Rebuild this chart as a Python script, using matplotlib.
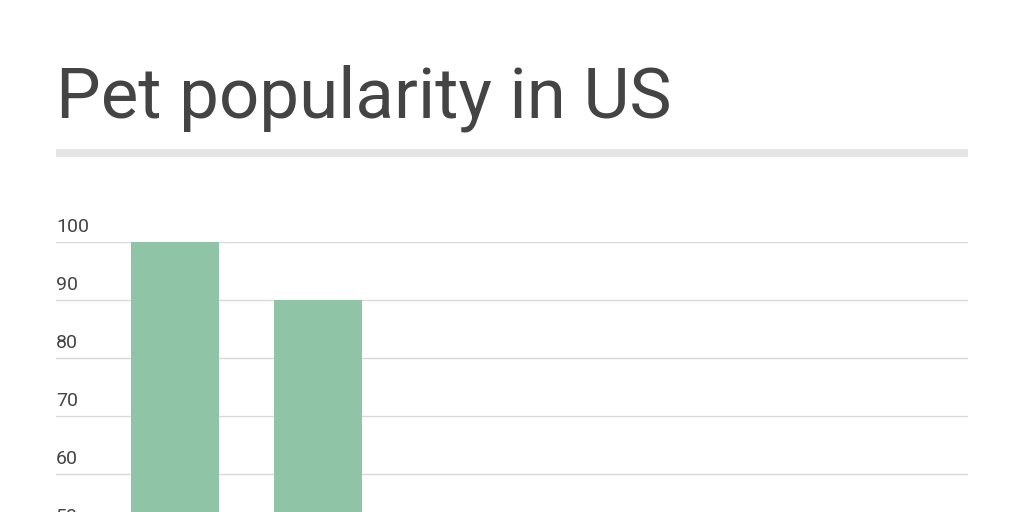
import matplotlib
matplotlib.use("Agg")
import matplotlib.pyplot as plt
import matplotlib.transforms as mtransforms

TITLE = "Pet popularity in US"
CATEGORIES = ["Dogs", "Cats"]
VALUES = [100, 90]
YTICKS = [50, 60, 70, 80, 90, 100]

W, H = 1024, 512
fig = plt.figure(figsize=(W / 100, H / 100), dpi=100)
fig.patch.set_facecolor("white")

fig.text(56 / W, 1 - 118 / H, TITLE, fontsize=51, family="Roboto",
         color="#444444", ha="left", va="baseline")
fig.add_artist(plt.Rectangle((56 / W, 1 - 157 / H), 912 / W, 8 / H,
                             transform=fig.transFigure, color="#e5e5e5", lw=0))

# axes: value 100 at y=242px, 10 units = 58px; extends below the figure
top = 1 - 242 / H
height = 580 / H
ax = fig.add_axes([56 / W, top - height, 912 / W, height])
ax.set_ylim(0, 100)
ax.set_xlim(-0.832, 5.55)
for s in ax.spines.values():
    s.set_visible(False)
ax.set_xticks([])
ax.set_yticks([])
trans = mtransforms.blended_transform_factory(ax.transAxes, ax.transData)
for v in YTICKS:
    ax.axhline(v, color="#d9d9d9", lw=1, zorder=0)
    ax.text(0, v + 1.1, str(v), transform=trans, fontsize=14, family="Roboto",
            color="#444444", ha="left", va="bottom", clip_on=False)

ax.bar(range(len(CATEGORIES)), VALUES, width=0.615, color="#8fc4a7", zorder=2)

fig.savefig("out.png", dpi=100)
